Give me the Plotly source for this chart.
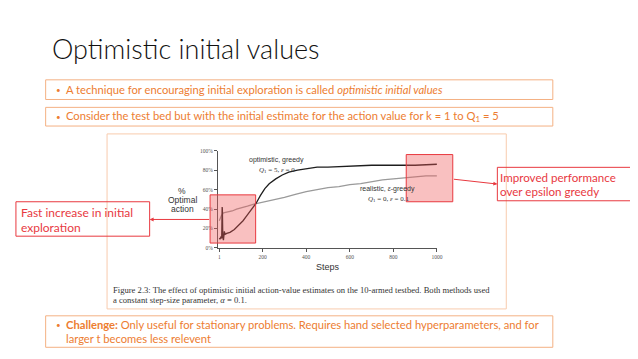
import plotly.graph_objects as go

W, H = 638, 359

# ---- data ----
opt_steps = [1, 4, 8, 12, 14, 15, 17, 20, 24, 28, 35, 50, 70, 90, 110, 130, 150, 170, 190,
             210, 230, 260, 290, 320, 360, 400, 450, 500, 600, 700, 800, 900, 1000]
opt_values = [10, 9, 11, 10, 42, 40, 11, 8, 17, 14, 15, 16, 19, 23, 28, 34, 40, 46, 54,
              61, 66, 71, 75, 78, 80, 81, 83, 83, 84, 85, 85, 85, 86]

real_steps = [1, 10, 20, 40, 60, 80, 100, 130, 160, 200, 250, 300, 350, 400, 450, 500,
              550, 600, 650, 700, 750, 800, 850, 900, 950, 1000]
real_values = [28, 33, 36, 37, 38, 40, 41, 43, 45, 47, 49, 52, 55, 58, 60, 62,
               63, 65, 66, 68, 70, 71, 72, 73, 74, 74]

x_tickvals = [1, 200, 400, 600, 800, 1000]
x_ticktext = ["1", "200", "400", "600", "800", "1000"]
y_tickvals = [0, 20, 40, 60, 80, 100]
y_ticktext = ["0%", "20%", "40%", "60%", "80%", "100%"]


def px(x):
    return x / W


def py(y):
    return 1 - y / H


ORANGE = "#ED7D31"
ORANGE_BORDER = "#F4B183"
FRAME = "#F8CBAD"
RED = "#E8393F"
SLIDE_FONT = "Lato"

fig = go.Figure()
fig.add_trace(go.Scatter(x=real_steps, y=real_values, mode="lines",
                         line=dict(color="#9a9a9a", width=1.3), showlegend=False))
fig.add_trace(go.Scatter(x=opt_steps, y=opt_values, mode="lines",
                         line=dict(color="#1e1e1e", width=1.3), showlegend=False))

shapes = []
# bullet boxes
for (x0, y0, x1, y1) in [(38, 70, 550, 90), (38, 98, 550, 117), (38, 310, 550, 342)]:
    shapes.append(dict(type="rect", xref="paper", yref="paper", x0=px(x0), x1=px(x1),
                       y0=py(y1), y1=py(y0), line=dict(color=ORANGE_BORDER, width=1),
                       fillcolor="rgba(0,0,0,0)", layer="below"))
# figure frame
shapes.append(dict(type="rect", xref="paper", yref="paper", x0=px(100), x1=px(503),
                   y0=py(303), y1=py(125), line=dict(color=FRAME, width=1),
                   fillcolor="rgba(0,0,0,0)", layer="above"))
# red highlight boxes
for (x0, y0, x1, y1) in [(204, 187, 250, 236), (402, 146, 449, 194)]:
    shapes.append(dict(type="rect", xref="paper", yref="paper", x0=px(x0), x1=px(x1),
                       y0=py(y1), y1=py(y0), line=dict(color=RED, width=1),
                       fillcolor="rgba(240,90,90,0.38)", layer="above"))
# annotation text boxes
for (x0, y0, x1, y1) in [(8, 194, 143, 229), (494, 159, 629, 193)]:
    shapes.append(dict(type="rect", xref="paper", yref="paper", x0=px(x0), x1=px(x1),
                       y0=py(y1), y1=py(y0), line=dict(color=RED, width=1),
                       fillcolor="rgba(0,0,0,0)", layer="above"))

ann = []


def text(x, y, s, size, color, family=SLIDE_FONT, xanchor="left", weight=None):
    f = dict(size=size, color=color, family=family)
    if weight is not None:
        f["weight"] = weight
    ann.append(dict(x=px(x), y=py(y), xref="paper", yref="paper", text=s, showarrow=False,
                    xanchor=xanchor, yanchor="middle", font=f))


text(42, 38, "Optimistic initial values", 27, "#111111", weight=300)

text(46, 80, "•", 8, ORANGE)
text(57, 80, "A technique for encouraging initial exploration is called <i>optimistic initial values</i>",
     11.2, ORANGE)
text(46, 107.5, "•", 8, ORANGE)
text(57, 107.5, "Consider the test bed but with the initial estimate for the action value for k = 1 to Q<sub>1</sub> = 5",
     11.2, ORANGE)
text(46, 319, "•", 8, ORANGE)
text(57, 319, "<b>Challenge:</b> Only useful for stationary problems. Requires hand selected hyperparameters, and for",
     11.2, ORANGE)
text(57, 333, "larger t becomes less relevent", 11.2, ORANGE)

# annotation box texts
text(11, 205, "Fast increase in initial", 12, RED)
text(11, 220, "exploration", 12, RED)
text(495, 169, "Improved performance", 11.6, RED)
text(495, 184, "over epsilon greedy", 11.6, RED)

# chart labels
text(176, 183, "%", 8.5, "#333333", family="Liberation Sans", xanchor="center")
text(176, 192, "Optimal", 8.5, "#333333", family="Liberation Sans", xanchor="center")
text(176, 201, "action", 8.5, "#333333", family="Liberation Sans", xanchor="center")
text(323, 260, "Steps", 9, "#333333", family="Liberation Sans", xanchor="center")

text(271, 152, "optimistic, greedy", 7, "#333333", family="Liberation Sans", xanchor="center")
text(272, 162, "<i>Q</i><sub>1</sub> = 5, <i>ε</i> = 0", 7, "#333333", family="Liberation Serif",
     xanchor="center")
text(383, 181, "realistic, <i>ε</i>-greedy", 7, "#333333", family="Liberation Sans", xanchor="center")
text(384, 191, "<i>Q</i><sub>1</sub> = 0, <i>ε</i> = 0.1", 7, "#333333", family="Liberation Serif",
     xanchor="center")

text(104, 284, "Figure 2.3: The effect of optimistic initial action-value estimates on the 10-armed testbed. Both methods used",
     8.6, "#333333", family="Liberation Serif")
text(104, 293.5, "a constant step-size parameter, <i>α</i> = 0.1.", 8.6, "#333333", family="Liberation Serif")

# arrows
ann.append(dict(x=px(143), y=py(212), xref="paper", yref="paper", ax=61, ay=0, text="",
                showarrow=True, arrowhead=2, arrowsize=0.8, arrowwidth=1, arrowcolor=RED))
ann.append(dict(x=px(494), y=py(176), xref="paper", yref="paper", ax=-45, ay=-5, text="",
                showarrow=True, arrowhead=2, arrowsize=0.8, arrowwidth=1, arrowcolor=RED))

fig.update_layout(
    width=W, height=H, margin=dict(l=0, r=0, t=0, b=0),
    paper_bgcolor="white", plot_bgcolor="rgba(0,0,0,0)",
    shapes=shapes, annotations=ann,
    xaxis=dict(domain=[px(212), px(433)], range=[-5, 1000], showgrid=False, zeroline=False,
               showline=True, linecolor="#555555", linewidth=1, ticks="outside", ticklen=3,
               tickcolor="#555555", tickvals=x_tickvals, ticktext=x_ticktext,
               tickfont=dict(size=5.5, color="#555555", family="Liberation Serif")),
    yaxis=dict(domain=[py(241), py(142)], range=[0, 100], showgrid=False, zeroline=False,
               showline=True, linecolor="#555555", linewidth=1, ticks="outside", ticklen=3,
               tickcolor="#555555", tickvals=y_tickvals, ticktext=y_ticktext,
               tickfont=dict(size=5.5, color="#555555", family="Liberation Serif")),
)

fig.write_html("out.html")
